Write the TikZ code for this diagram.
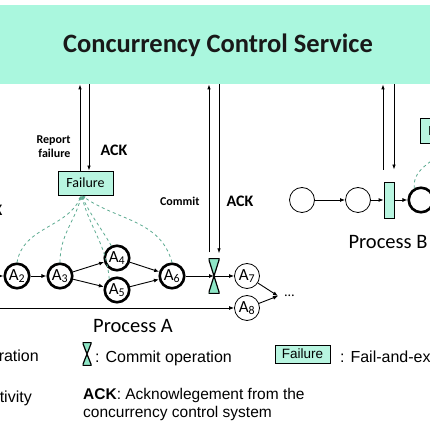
\documentclass[tikz,border=0pt]{standalone}
\usepackage{fontspec}
\setmainfont{Carlito}
\newfontfamily\arialfont{Liberation Sans}
\usetikzlibrary{arrows.meta, positioning}

\definecolor{ccsgreen}{HTML}{AAF7DE}
\definecolor{boxgreen}{HTML}{B8F5E0}
\definecolor{dashgreen}{HTML}{5BAA90}
\definecolor{hgfill}{HTML}{8EE6C6}

\tikzset{
  act/.style={circle, draw, line width=2.6pt, minimum size=24.5pt, inner sep=0pt,
    font=\fontsize{17}{17}\selectfont},
  actthin/.style={circle, draw, line width=0.8pt, minimum size=25pt, inner sep=0pt,
    font=\fontsize{17}{17}\selectfont},
  flbox/.style={draw, fill=boxgreen, line width=0.8pt, minimum width=55pt,
    minimum height=24pt, inner sep=0pt, font=\fontsize{14}{14}\selectfont},
  hglass/.style={minimum width=11pt, minimum height=35pt, inner sep=0pt,
    path picture={\filldraw[fill=hgfill, line width=1.2pt]
      (path picture bounding box.north west) -- (path picture bounding box.north east)
      -- (path picture bounding box.south west) -- (path picture bounding box.south east)
      -- cycle;}},
  flow/.style={-{Latex[length=5pt,width=4pt]}, line width=0.9pt},
  ctrl/.style={-{Latex[length=5pt,width=3.5pt]}, line width=0.8pt},
  report/.style={dashed, dashgreen, line width=0.8pt, -{Latex[length=4pt,width=3pt]}},
  lbl/.style={font=\fontsize{16}{16}\selectfont\bfseries},
  smlbl/.style={font=\fontsize{12}{14}\selectfont\bfseries},
  legend/.style={font=\arialfont\fontsize{16}{18}\selectfont, inner sep=0pt},
}

\begin{document}
\begin{tikzpicture}[x=1pt, y=1pt]
  \useasboundingbox (0,0) rectangle (430,430);
  \clip (0,0) rectangle (430,430);
  % service band
  \node[fill=ccsgreen, minimum width=430pt, minimum height=79pt, inner sep=0pt,
    anchor=north west] (ccs) at (0,425) {};
  \node[font=\fontsize{26.5}{26.5}\selectfont\bfseries, text=black!90] (title) at (218,385)
    {Concurrency Control Service};

  % failure report
  \node[flbox] (fail) at (85.5,247) {Failure};
  \draw[ctrl] ([xshift=-5.5pt]fail.north) -- ([xshift=-5.5pt]fail.north |- ccs.south);
  \draw[ctrl] ([xshift=3.5pt]fail.north |- ccs.south) -- ([xshift=3.5pt]fail.north);
  \node[smlbl, anchor=east, align=right] (rf) at (74,283) {Report\\failure};
  \node[lbl] (ack1) at (114,280) {ACK};
  \node[lbl, anchor=east] (ack0) at (6,220) {ACK};

  % process A
  \coordinate (a1) at (-20,154);
  \coordinate (a0) at (-20,122);
  \node[act] (a2) at (17,154) {A\textsubscript{2}};
  \node[act] (a3) at (60,154) {A\textsubscript{3}};
  \node[act] (a4) at (117,172) {A\textsubscript{4}};
  \node[act] (a5) at (117,140) {A\textsubscript{5}};
  \node[act] (a6) at (172,154) {A\textsubscript{6}};
  \node[hglass] (cm) at (214,154) {};
  \node[actthin] (a7) at (247,154) {A\textsubscript{7}};
  \node[actthin] (a8) at (247,122) {A\textsubscript{8}};
  \coordinate (mg) at (278,134);
  \node[font=\fontsize{14}{14}\selectfont, right=3pt of mg] (dots) {\dots};
  \draw[flow] (a1) -- (a2);
  \draw[flow] (a2) -- (a3);
  \draw[flow] (a3) -- (a4);
  \draw[flow] (a3) -- (a5);
  \draw[flow] (a4) -- (a6);
  \draw[flow] (a5) -- (a6);
  \draw[flow] (a6) -- (cm.center);
  \draw[flow] (cm.center) -- (a7);
  \draw[flow] (a7) -- (mg);
  \draw[flow] (a8) -- (mg);
  \draw[flow] (a0) -- (a8);
  \node[font=\fontsize{20.5}{20.5}\selectfont] (pa) at (133,104) {Process A};

  % commit
  \draw[ctrl] ([xshift=-5pt,yshift=6pt]cm.north) -- ([xshift=-5pt]cm.north |- ccs.south);
  \draw[ctrl] ([xshift=5pt]cm.north |- ccs.south) -- ([xshift=5pt,yshift=5pt]cm.north);
  \node[smlbl, anchor=east] (cmt) at (203,229) {Commit};
  \node[lbl] (ack2) at (240,229) {ACK};

  % dashed reports to failure
  \coordinate (fs) at ([xshift=-4pt]fail.south);
  \draw[report] (a2.north) to[out=80, in=-115] (fs);
  \draw[report] (a3.north) to[out=90, in=-105] (fs);
  \draw[report] (a4.115) to[out=120, in=-65] (fs);
  \draw[report] (a5.125) to[out=95, in=-75] (fs);
  \draw[report] (a6.north) to[out=105, in=-35] (fs);

  % process B
  \node[actthin] (b1) at (302,230) {};
  \node[actthin] (b2) at (358,230) {};
  \node[draw, fill=boxgreen, line width=0.8pt, minimum width=10pt, minimum height=36pt,
    inner sep=0pt] (bc) at (389,230) {};
  \node[act] (b3) at (421,230) {};
  \draw[flow] (b1) -- (b2);
  \draw[flow] (b2) -- (bc);
  \draw[flow] (bc) -- (b3);
  \draw[ctrl] ([xshift=-6pt,yshift=12pt]bc.north) -- ([xshift=-6pt]bc.north |- ccs.south);
  \draw[ctrl] ([xshift=5pt]bc.north |- ccs.south) -- ([xshift=5pt,yshift=12pt]bc.north);
  \node[flbox, minimum height=25pt] (failb) at (447.5,299.5) {Failure};
  \draw[report] (b3.120) to[out=95, in=-120] (failb.south);
  \node[font=\fontsize{20.5}{20.5}\selectfont] (pb) at (388,188) {Process B};

  % legend
  \node[legend, anchor=base east] (lgop) at (39,68) {operation};
  \node[legend, anchor=base east] (lgact) at (32,27) {activity};
  \node[hglass, minimum width=9pt, minimum height=23pt] (lghg) at (87,76) {};
  \node[legend, anchor=base west] (lgcm) at (95,67) {: Commit operation};
  \node[flbox, minimum height=18pt, font=\arialfont\fontsize{13.5}{13.5}\selectfont]
    (lgfail) at (302.5,76) {Failure};
  \node[legend, anchor=base west] (lgfx) at (340,67) {: Fail-and-exit};
  \node[legend, anchor=north west, align=left, font=\arialfont\fontsize{15.5}{18}\selectfont]
    (lgack) at (83,42) {\textbf{ACK}: Acknowlegement from the\\concurrency control system};
\end{tikzpicture}
\end{document}
